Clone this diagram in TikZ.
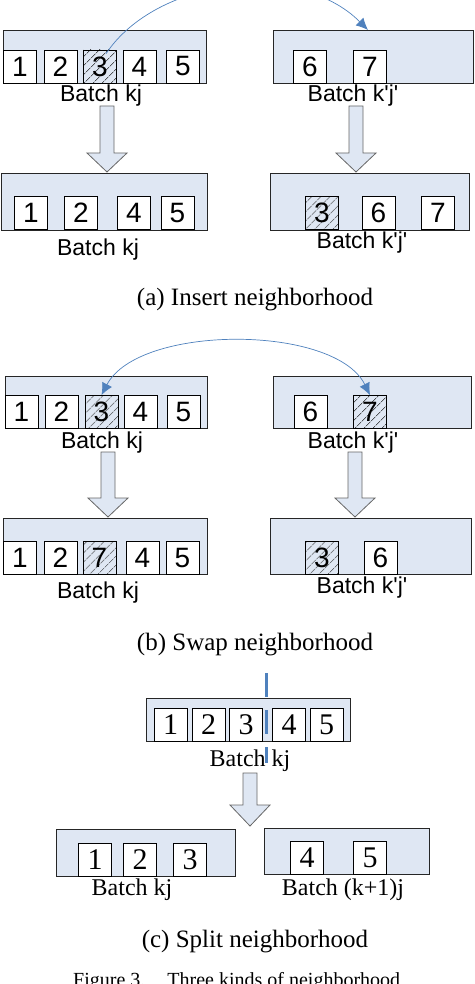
\documentclass[tikz,border=0pt]{standalone}
\usepackage{fontspec}
\setmainfont{Liberation Serif}
\setsansfont{Liberation Sans}
\usetikzlibrary{arrows.meta,patterns.meta}
\definecolor{batchblue}{RGB}{223,231,243}
\definecolor{linkblue}{RGB}{79,129,189}
\tikzset{
	batch/.style={draw=black!85, fill=batchblue, line width=0.8pt},
	job/.style={draw, fill=white, line width=0.8pt, minimum width=33pt, minimum height=33pt, inner sep=0pt, font=\sffamily\fontsize{28}{28}\selectfont},
	hjob/.style={job, fill=none, preaction={fill=batchblue}, pattern={Lines[angle=45,distance=6.5pt,line width=0.6pt]}},
	jobc/.style={job, font=\rmfamily\fontsize{30}{30}\selectfont},
	lbl/.style={inner sep=0pt, anchor=base, font=\sffamily\fontsize{23}{23}\selectfont},
	lblc/.style={inner sep=0pt, anchor=base, font=\rmfamily\fontsize{24}{24}\selectfont},
	capt/.style={inner sep=0pt, anchor=base, font=\rmfamily\fontsize{25}{25}\selectfont},
	arrowbody/.style={draw=black!60, fill=batchblue, line width=0.8pt},
	link/.style={draw=linkblue, line width=0.7pt, >={Latex[length=12pt,width=11pt]}},
	splitline/.style={draw=linkblue, line width=3pt, dash pattern=on 24pt off 13pt}
}
\newcommand{\blockarrow}[4]{\draw[arrowbody] ({#1-7},#2) -- ({#1-7},#3) -- ({#1-20},#3) -- (#1,#4) -- ({#1+20},#3) -- ({#1+7},#3) -- ({#1+7},#2) -- cycle;}
\newcommand{\kj}{k\textquotesingle j\textquotesingle}
\begin{document}
\begin{tikzpicture}[x=1pt, y=-1pt]
	\useasboundingbox (0,0) rectangle (474,984);

	% (a) insert
	\draw[batch] (3,30) rectangle (206,83);
	\node[job] (a1) at (20,66.5) {1};
	\node[job] (a2) at (60.5,66.5) {2};
	\node[hjob] (a3) at (100,66.5) {3};
	\node[job] (a4) at (139.5,66.5) {4};
	\node[job] (a5) at (183,66.5) {5};
	\node[lbl] (la1) at (101,102) {Batch kj};

	\draw[batch] (273,30) rectangle (473,83);
	\node[job] (a6) at (310,66.5) {6};
	\node[job] (a7) at (370,66.5) {7};
	\node[lbl] (la2) at (353,102) {Batch \kj};
	\coordinate (ains) at (368,30);

	\draw[link,->] ([xshift=6pt,yshift=-4pt]a3.north) .. controls +(50,-75) and +(-70,-70) .. (ains);

	\blockarrow{107}{106}{153}{172}
	\blockarrow{356}{106}{153}{172}

	\draw[batch] (1,173) rectangle (207,230);
	\node[job] (aa1) at (31,213) {1};
	\node[job] (aa2) at (81,213) {2};
	\node[job] (aa4) at (134,213) {4};
	\node[job] (aa5) at (177.5,213) {5};
	\node[lbl] (la3) at (98,255) {Batch kj};

	\draw[batch] (270,173) rectangle (469,230);
	\node[hjob] (aa3) at (322,213) {3};
	\node[job] (aa6) at (378.5,213) {6};
	\node[job] (aa7) at (438,213) {7};
	\node[lbl] (la4) at (362,248) {Batch \kj};

	\node[capt] (capa) at (255,305) {(a) Insert neighborhood};

	% (b) swap
	\draw[batch] (5,376) rectangle (207,428);
	\node[job] (b1) at (21.5,412) {1};
	\node[job] (b2) at (61.5,412) {2};
	\node[hjob] (b3) at (101.5,412) {3};
	\node[job] (b4) at (140.5,412) {4};
	\node[job] (b5) at (183.5,412) {5};
	\node[lbl] (lb1) at (102,448) {Batch kj};

	\draw[batch] (273,376) rectangle (471,428);
	\node[job] (b6) at (310.5,412) {6};
	\node[hjob] (b7) at (370,412) {7};
	\node[lbl] (lb2) at (353,448) {Batch \kj};

	\draw[link,<->] (b3.north) .. controls +(37,-71) and +(-35,-71) .. (b7.north);

	\blockarrow{108}{452}{498}{517}
	\blockarrow{355}{452}{498}{517}

	\draw[batch] (3,518) rectangle (207,574);
	\node[job] (bb1) at (20,557.5) {1};
	\node[job] (bb2) at (60.5,557.5) {2};
	\node[hjob] (bb7) at (99.5,557.5) {7};
	\node[job] (bb4) at (142.5,557.5) {4};
	\node[job] (bb5) at (182.5,557.5) {5};
	\node[lbl] (lb3) at (98,598) {Batch kj};

	\draw[batch] (270,518) rectangle (471,574);
	\node[hjob] (bb3) at (322,557.5) {3};
	\node[job] (bb6) at (380.5,557.5) {6};
	\node[lbl] (lb4) at (362,593) {Batch \kj};

	\node[capt] (capb) at (255,650) {(b) Swap neighborhood};

	% (c) split
	\draw[batch] (146,698) rectangle (350,741);
	\node[jobc] (c1) at (170.5,725) {1};
	\node[jobc] (c2) at (208.5,725) {2};
	\node[jobc] (c3) at (246,725) {3};
	\node[jobc] (c4) at (289,725) {4};
	\node[jobc] (c5) at (326.5,725) {5};
	\node[lblc] (lc1) at (250,766) {Batch kj};
	\draw[splitline] (266,673) -- (266,763);

	\blockarrow{250}{773}{805}{826}

	\draw[batch] (56,829) rectangle (235,876);
	\node[jobc] (cc1) at (95,859.5) {1};
	\node[jobc] (cc2) at (140,859.5) {2};
	\node[jobc] (cc3) at (190,859.5) {3};
	\node[lblc] (lc2) at (132,895) {Batch kj};

	\draw[batch] (264,828) rectangle (429,874);
	\node[jobc] (cc4) at (307,857.5) {4};
	\node[jobc] (cc5) at (370,857.5) {5};
	\node[lblc] (lc3) at (343,895) {Batch (k+1)j};

	\node[capt] (capc) at (255,947) {(c) Split neighborhood};

	\node[inner sep=0pt, anchor=base west, font=\rmfamily\fontsize{20}{20}\selectfont] (fig) at (73,986) {Figure 3.\hspace{22pt}Three kinds of neighborhood};
\end{tikzpicture}
\end{document}
